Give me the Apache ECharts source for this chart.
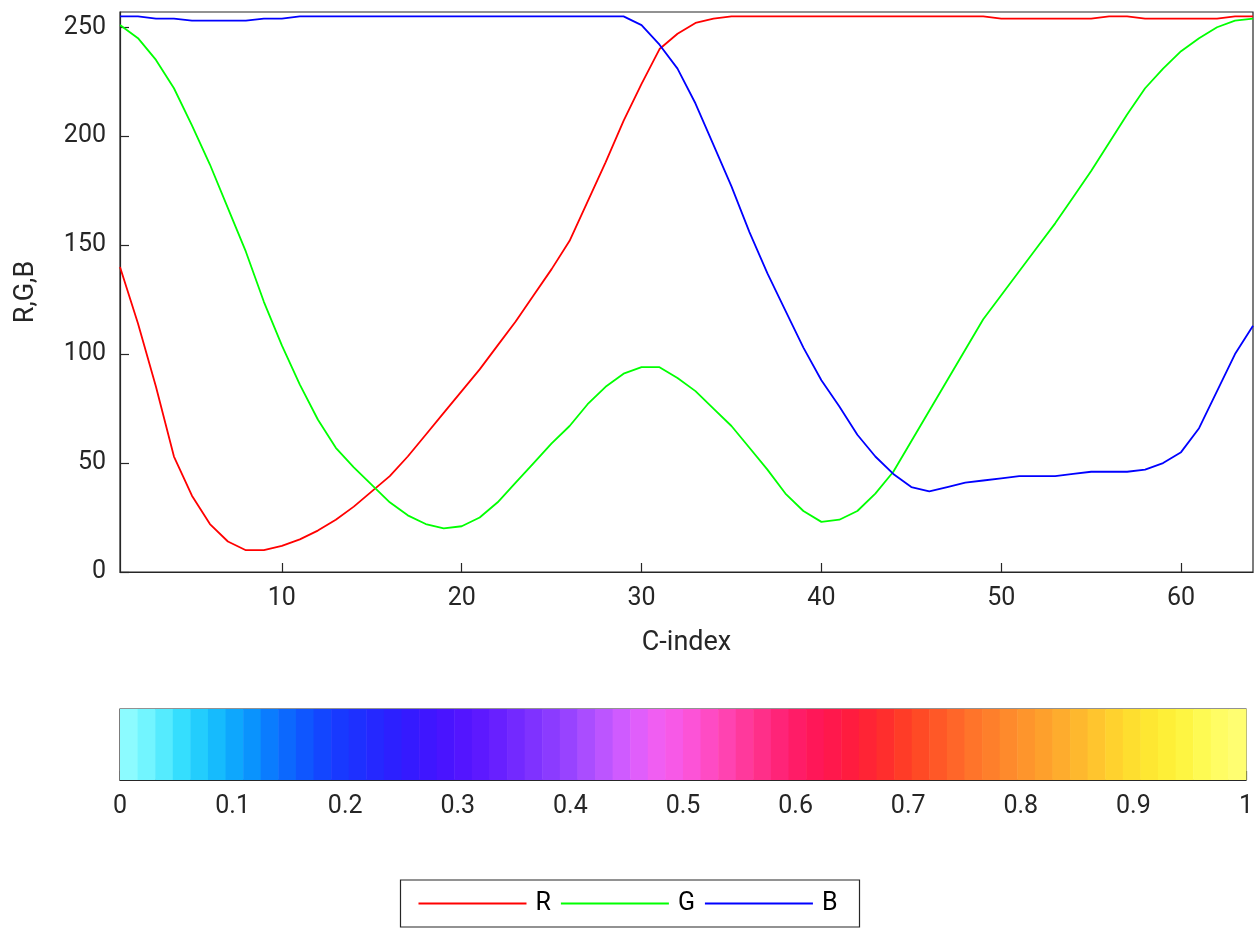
<!DOCTYPE html>
<html><head><meta charset="utf-8">
<script src="https://cdn.jsdelivr.net/npm/echarts@6/dist/echarts.min.js"></script>
<style>html,body{margin:0;background:#fff}#c{width:1256px;height:939px}</style>
</head><body><div id="c"></div>
<script>
var idx = [];
for (var i = 1; i <= 64; i++) idx.push(i);
var R = [140,114,85,53,35,22,14,10,10,12,15,19,24,30,37,44,53,63,73,83,93,104,115,127,139,152,170,188,207,224,240,247,252,254,255,255,255,255,255,255,255,255,255,255,255,255,255,255,255,254,254,254,254,254,254,255,255,254,254,254,254,254,255,255];
var G = [251,245,235,222,205,187,167,147,124,104,86,70,57,48,40,32,26,22,20,21,25,32,41,50,59,67,77,85,91,94,94,89,83,75,67,57,47,36,28,23,24,28,36,46,60,74,88,102,116,127,138,149,160,172,184,197,210,222,231,239,245,250,253,254];
var B = [255,255,254,254,253,253,253,253,254,254,255,255,255,255,255,255,255,255,255,255,255,255,255,255,255,255,255,255,255,251,242,231,215,196,177,156,137,120,103,88,76,63,53,45,39,37,39,41,42,43,44,44,44,45,46,46,46,47,50,55,66,83,100,113];
var xTicks = [10,20,30,40,50,60];
var barTicks = [0,0.1,0.2,0.3,0.4,0.5,0.6,0.7,0.8,0.9,1];

var font = 'Roboto';
var axisText = {color: '#262626', fontSize: 25, fontFamily: font};
var line = {lineStyle: {color: '#262626', width: 1.2}};

function pts(arr) { return arr.map(function (v, i) { return [idx[i], v]; }); }
var cells = idx.map(function (n, i) { return [(n - 1) / 64, n / 64, i]; });

var myChart = echarts.init(document.getElementById('c'));
var option = {
    backgroundColor: '#fff',
    animation: false,
    grid: [
        {left: 120, right: 3, top: 12, bottom: 367, show: true, borderColor: '#262626', borderWidth: 1.2},
        {left: 120, right: 3, top: 709, bottom: 159, show: true, borderColor: '#262626', borderWidth: 1.2}
    ],
    xAxis: [{
        type: 'value', gridIndex: 0, min: 1, max: 64,
        name: 'C-index', nameLocation: 'middle', nameGap: 58,
        nameTextStyle: {color: '#262626', fontSize: 27, fontFamily: font},
        axisLine: line,
        axisTick: {inside: true, length: 9, lineStyle: line.lineStyle, customValues: xTicks},
        axisLabel: Object.assign({margin: 14, customValues: xTicks}, axisText),
        splitLine: {show: false}
    }, {
        type: 'value', gridIndex: 1, min: 0, max: 1,
        axisLine: line,
        axisTick: {inside: true, length: 9, lineStyle: line.lineStyle, customValues: barTicks},
        axisLabel: Object.assign({margin: 14, customValues: barTicks}, axisText),
        splitLine: {show: false}
    }],
    yAxis: [{
        type: 'value', gridIndex: 0, min: 0, max: 257, interval: 50,
        name: 'R,G,B', nameLocation: 'middle', nameGap: 80,
        nameTextStyle: {color: '#262626', fontSize: 27, fontFamily: font},
        axisLine: line, axisTick: {inside: true, length: 9, lineStyle: line.lineStyle},
        axisLabel: Object.assign({margin: 14}, axisText),
        splitLine: {show: false}
    }, {
        type: 'value', gridIndex: 1, min: 0, max: 1, show: false
    }],
    legend: {
        bottom: 12, left: 'center', itemWidth: 108, itemHeight: 2, itemGap: 10,
        borderColor: '#262626', borderWidth: 1.2, padding: [11, 22, 11, 18],
        icon: 'rect',
        textStyle: {color: '#000', fontSize: 25, fontFamily: font, padding: [0, 0, 0, 4]},
        data: ['R', 'G', 'B']
    },
    series: [
        {name: 'R', type: 'line', data: pts(R), showSymbol: false, lineStyle: {width: 1.8}, color: '#ff0000'},
        {name: 'G', type: 'line', data: pts(G), showSymbol: false, lineStyle: {width: 1.8}, color: '#00ff00'},
        {name: 'B', type: 'line', data: pts(B), showSymbol: false, lineStyle: {width: 1.8}, color: '#0000ff'},
        {
            type: 'custom', xAxisIndex: 1, yAxisIndex: 1, data: cells,
            renderItem: function (params, api) {
                var i = api.value(2);
                var p0 = api.coord([api.value(0), 1]);
                var p1 = api.coord([api.value(1), 0]);
                return {
                    type: 'rect',
                    shape: {x: p0[0], y: p0[1], width: p1[0] - p0[0] + 0.5, height: p1[1] - p0[1]},
                    style: {fill: 'rgb(' + R[i] + ',' + G[i] + ',' + B[i] + ')'}
                };
            }
        }
    ]
};
myChart.setOption(option, true);
</script></body></html>
